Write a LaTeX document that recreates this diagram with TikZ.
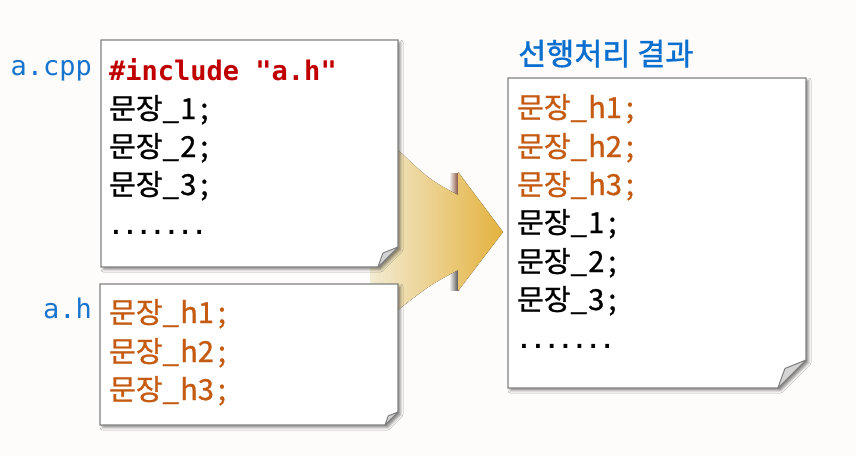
\documentclass[tikz,border=0pt]{standalone}
\usepackage{fontspec}
\setmainfont{Noto Sans CJK KR}[FakeBold=0.9]
\newfontfamily\titlefont{Noto Sans CJK KR}[FakeBold=1.3]
\newfontfamily\monofont{DejaVu Sans Mono}
\usetikzlibrary{calc,shadows,shadows.blur}
\definecolor{bg}{HTML}{FDFCFA}
\definecolor{lblblue}{HTML}{1874CD}
\definecolor{titleblue}{HTML}{0B6FCF}
\definecolor{incred}{HTML}{C00000}
\definecolor{horange}{HTML}{C55A11}
\definecolor{boxline}{HTML}{808080}
\definecolor{flapfill}{HTML}{D4D4D4}
\definecolor{arrowleft}{HTML}{F2EBD2}
\definecolor{arrowright}{HTML}{E4B23E}
\definecolor{notchbrown}{HTML}{7A3E2A}
\definecolor{notchgrey}{HTML}{444444}
\newcommand\stmt[1]{문장\_\kern1.5pt#1\kern4pt;}
\tikzset{
  notepaper/.style={fill=white, draw=boxline, line width=1.4pt, line join=miter,
    blur shadow={shadow xshift=2.5pt, shadow yshift=-2.5pt, shadow blur radius=2.5pt, shadow opacity=45}},
  flap/.style={fill=flapfill, draw=boxline, line width=1pt, line join=round},
  ktext/.style={anchor=base west, inner sep=0pt, font=\fontsize{29}{34}\selectfont},
  htext/.style={ktext, text=horange},
  inctext/.style={anchor=base west, inner sep=0pt, font=\monofont\bfseries\fontsize{27}{32}\selectfont, text=incred},
  dottext/.style={anchor=base west, inner sep=0pt, font=\monofont\bfseries\fontsize{23}{28}\selectfont},
  filelabel/.style={anchor=base east, inner sep=0pt, font=\monofont\fontsize{27}{32}\selectfont, text=lblblue},
  titletext/.style={anchor=base west, inner sep=0pt, font=\titlefont\fontsize{30.5}{34}\selectfont, text=titleblue},
  notch/.style={draw=none}
}
\newcommand\notebox[6]{% name, x1, y1, x2, y2, fold
  \coordinate (#1-nw) at (#2,#3);
  \coordinate (#1-se) at (#4,#5);
  \path[notepaper] (#1-nw) -- (#1-nw -| #1-se) -- ($(#1-se)+(0,-#6)$)
    -- ($(#1-se)+(-#6,0)$) -- (#1-nw |- #1-se) -- cycle;
  \path[flap] ($(#1-se)+(-#6,0)$) .. controls ($(#1-se)+(-0.9*#6,-0.3*#6)$) .. ($(#1-se)+(-0.75*#6,-0.7*#6)$)
    -- ($(#1-se)+(0,-#6)$) -- cycle;
}
\begin{document}
\begin{tikzpicture}[x=1pt,y=-1pt]
\useasboundingbox[fill=bg] (0,0) rectangle (856,456);

% shadows of the arrow barbs
\fill[notch, left color=bg, right color=notchbrown] (449,173) rectangle (459,195);
\fill[notch, left color=bg, right color=notchgrey] (449,270) rectangle (459,290);

% big arrow
\coordinate (arrtip) at (503,232);
\fill[left color=arrowleft, right color=arrowright]
  (370,135) -- (398,150) .. controls (430,180) .. (458,195) -- (458,172) -- (arrtip)
  -- (458,291) -- (458,270) .. controls (430,285) .. (398,310) -- (370,325) -- cycle;

% boxes
\notebox{cpp}{101}{40}{398}{267}{20}
\notebox{hdr}{100}{284}{398}{425}{13}
\notebox{res}{508}{78}{806}{388}{28}

% labels
\node[filelabel] (lcpp) at (92,75) {a.cpp};
\node[filelabel] (lh) at (92,318) {a.h};
\node[titletext] (title) at (518,65) {선행처리 결과};

% a.cpp content
\node[inctext] (inc) at (109,80) {\#include "a.h"};
\node[ktext] (c1) at (109,119) {\stmt{1}};
\node[ktext] (c2) at (109,157) {\stmt{2}};
\node[ktext] (c3) at (109,195) {\stmt{3}};
\node[dottext] (cd) at (109,234) {.......};

% a.h content
\node[htext] (h1) at (109,323) {\stmt{h1}};
\node[htext] (h2) at (109,362) {\stmt{h2}};
\node[htext] (h3) at (109,400) {\stmt{h3}};

% result content
\node[htext] (r1) at (517,118) {\stmt{h1}};
\node[htext] (r2) at (517,157) {\stmt{h2}};
\node[htext] (r3) at (517,195) {\stmt{h3}};
\node[ktext] (r4) at (517,233) {\stmt{1}};
\node[ktext] (r5) at (517,272) {\stmt{2}};
\node[ktext] (r6) at (517,310) {\stmt{3}};
\node[dottext] (rd) at (517,348) {.......};
\end{tikzpicture}
\end{document}
